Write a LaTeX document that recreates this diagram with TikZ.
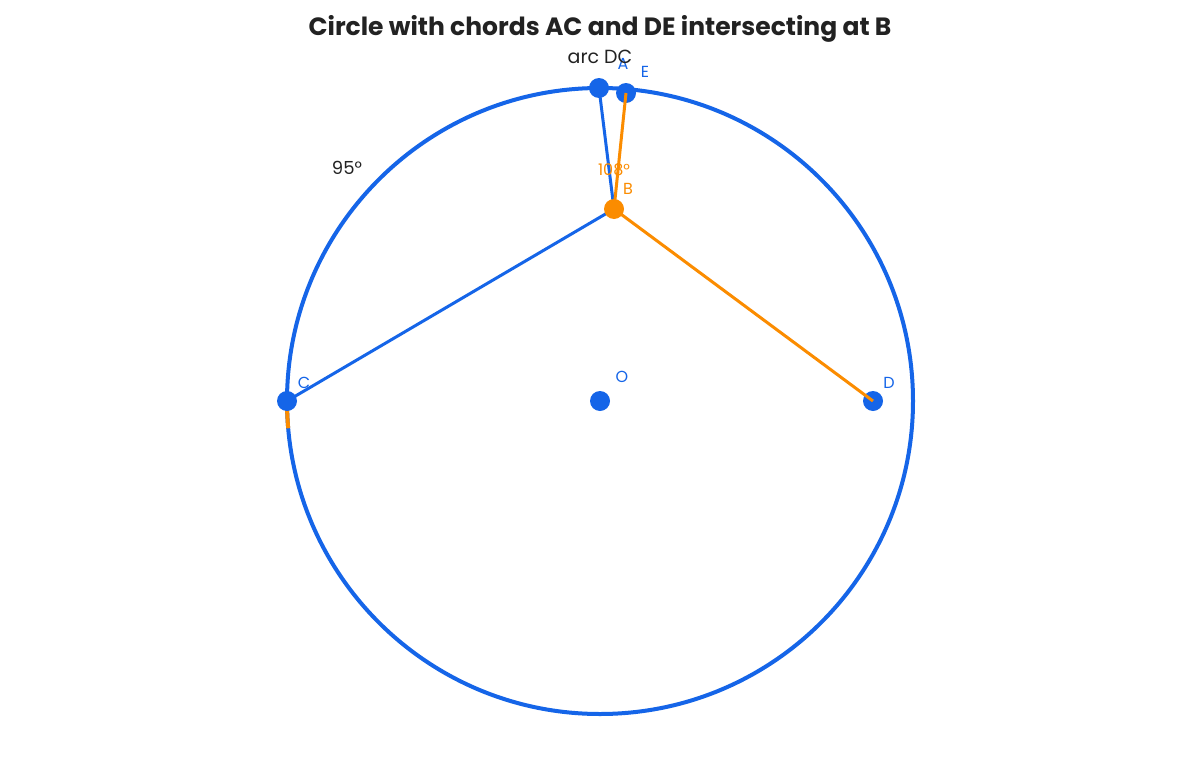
\documentclass[tikz,border=0pt]{standalone}
\usepackage{fontspec}
\setmainfont{Poppins}
\definecolor{cb}{HTML}{1565E8}
\definecolor{co}{HTML}{FB8C00}
\definecolor{tx}{HTML}{222222}
\begin{document}
\begin{tikzpicture}[x=1pt,y=-1pt,
  dot/.style={circle,fill=#1,inner sep=0pt,minimum size=20pt},
  lbl/.style={font=\fontsize{16}{16}\selectfont,text=#1,inner sep=0pt}]
\useasboundingbox (0,0) rectangle (1200,763);
\fill[white] (0,0) rectangle (1200,763);
\node[font=\fontsize{25}{25}\selectfont\bfseries,text=tx] (title) at (600,29) {Circle with chords AC and DE intersecting at B};
\coordinate (O) at (600,401);
\draw[cb,line width=4pt] (O) circle (313);
\draw[co,line width=4pt] (287,401) arc (180:175:313);
\coordinate (A) at (599,88);
\coordinate (E) at (626,93);
\coordinate (B) at (614,209);
\coordinate (C) at (287,401);
\coordinate (D) at (873,401);
\draw[cb,line width=3pt] (A) -- (B) -- (C);
\node[dot=cb] (dA) at (A) {};
\node[dot=cb] (dE) at (E) {};
\node[dot=co] (dB) at (B) {};
\node[dot=cb] (dC) at (C) {};
\node[dot=cb] (dO) at (O) {};
\node[dot=cb] (dD) at (D) {};
\draw[co,line width=3pt] (E) -- (B);
\draw[co,line width=3pt] (B) -- (D);
\node[lbl=cb] (lA) at (623,64) {A};
\node[lbl=cb] (lE) at (645,72) {E};
\node[lbl=co] (lB) at (628,189) {B};
\node[lbl=co] (lang) at (614,170) {108°};
\node[lbl=cb] (lC) at (304,383) {C};
\node[lbl=cb] (lO) at (622,377) {O};
\node[lbl=cb] (lD) at (889,383) {D};
\node[lbl=tx,font=\fontsize{18}{18}\selectfont] (l95) at (347,168) {95°};
\node[lbl=tx,font=\fontsize{19}{19}\selectfont] (arc) at (600,57) {arc DC};
\end{tikzpicture}
\end{document}
